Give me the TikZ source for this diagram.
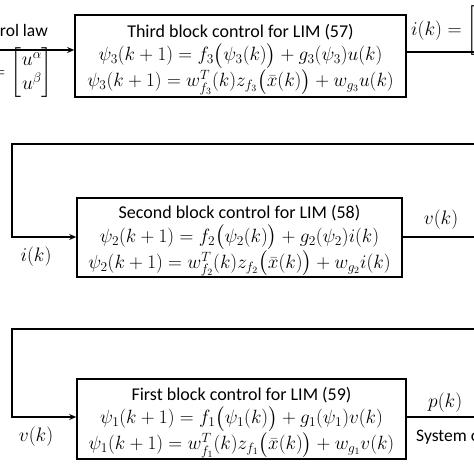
\RequirePackage{fix-cm}
\documentclass[tikz,border=0pt]{standalone}
\usepackage{amsmath}
\usepackage{fontspec}
\setmainfont{Carlito}
\usetikzlibrary{arrows.meta}
\newcommand{\mline}[1]{{\fontsize{19.2}{23}\selectfont$#1$}}
\begin{document}
\begin{tikzpicture}[x=1pt,y=-1pt,
  blockbox/.style={draw,line width=1.6pt,inner sep=0pt},
  blocktext/.style={inner sep=0pt,align=center,
    font=\fontsize{18}{23.5}\selectfont},
  conn/.style={line width=1.6pt},
  arr/.style={conn,-{Stealth[length=7pt,width=6pt]}},
  lbl/.style={font=\fontsize{17.5}{21}\selectfont,inner sep=0pt},
  mlbl/.style={font=\fontsize{19.5}{23}\selectfont,inner sep=0pt}]
\useasboundingbox (0,0) rectangle (474,474);
\clip (0,0) rectangle (474,474);
% blocks
\node[blockbox,minimum width=331pt,minimum height=82pt] (box3) at (240.5,56) {};
\node[blocktext] (box3t) at ([yshift=-3.5pt]box3.center)
  {Third block control for LIM (57)\\
   \mline{\psi_3(k+1)=f_3\bigl(\psi_3(k)\bigr)+g_3(\psi_3)u(k)}\\
   \mline{\psi_3(k+1)=w_{f_3}^T(k)z_{f_3}\bigl(\bar{x}(k)\bigr)+w_{g_3}u(k)}};
\node[blockbox,minimum width=325pt,minimum height=79pt] (box2) at (239.5,237.5) {};
\node[blocktext] (box2t) at ([yshift=-3.5pt]box2.center)
  {Second block control for LIM (58)\\
   \mline{\psi_2(k+1)=f_2\bigl(\psi_2(k)\bigr)+g_2(\psi_2)i(k)}\\
   \mline{\psi_2(k+1)=w_{f_2}^T(k)z_{f_2}\bigl(\bar{x}(k)\bigr)+w_{g_2}i(k)}};
\node[blockbox,minimum width=329pt,minimum height=80pt] (box1) at (241.5,419) {};
\node[blocktext] (box1t) at ([yshift=-3.5pt]box1.center)
  {First block control for LIM (59)\\
   \mline{\psi_1(k+1)=f_1\bigl(\psi_1(k)\bigr)+g_1(\psi_1)v(k)}\\
   \mline{\psi_1(k+1)=w_{f_1}^T(k)z_{f_1}\bigl(\bar{x}(k)\bigr)+w_{g_1}v(k)}};
% coordinates
\coordinate (in3) at (-5,50);
\coordinate (out3) at (480,52);
\coordinate (top2) at (480,144);
\coordinate (c2a) at (12,144);
\coordinate (c2b) at (12,237);
\coordinate (out2) at (480,237);
\coordinate (top1) at (480,329);
\coordinate (c1a) at (12,329);
\coordinate (c1b) at (12,417);
\coordinate (out1) at (480,417);
% connectors
\draw[arr] (in3) -- (in3 -| box3.west);
\draw[conn] (out3 -| box3.east) -- (out3);
\draw[arr] (top2) -- (c2a) -- (c2b) -- (c2b -| box2.west);
\draw[conn] (out2 -| box2.east) -- (out2);
\draw[arr] (top1) -- (c1a) -- (c1b) -- (c1b -| box1.west);
\draw[conn] (out1 -| box1.east) -- (out1);
% labels
\node[lbl,anchor=east] (lawlbl) at (48,30) {Control law};
\node[mlbl,anchor=east] (ulbl) at (53,73) {$u(k)=\begin{bmatrix}u^{\alpha}\\ u^{\beta}\end{bmatrix}$};
\node[mlbl,anchor=west] (ilbl) at (411,31) {$i(k)=\begin{bmatrix}i^{\alpha}\\ i^{\beta}\end{bmatrix}$};
\node[mlbl] (ik) at (36,257) {$i(k)$};
\node[mlbl] (vk) at (441,220) {$v(k)$};
\node[mlbl] (vk2) at (36,437) {$v(k)$};
\node[mlbl,anchor=west] (pk) at (428,403) {$p(k)$};
\node[lbl,anchor=west] (sys) at (416,437) {System output};
\end{tikzpicture}
\end{document}
